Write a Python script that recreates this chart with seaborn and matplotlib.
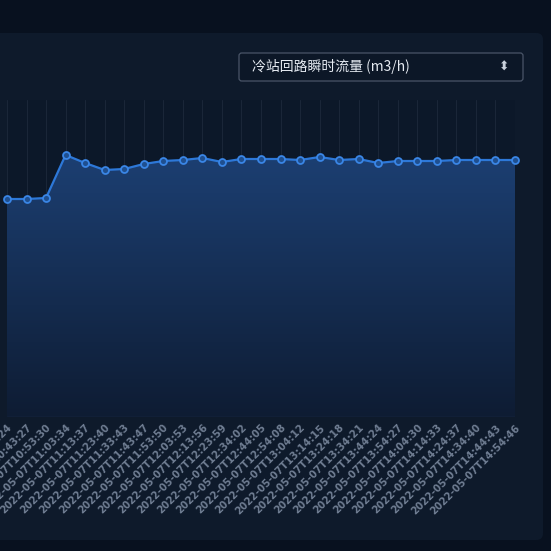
import matplotlib
matplotlib.use("Agg")
import matplotlib.pyplot as plt
from matplotlib.patches import FancyBboxPatch, Polygon
import numpy as np
import pandas as pd
import seaborn as sns

times = ["10:33:24", "10:43:27", "10:53:30", "11:03:34", "11:13:37", "11:23:40", "11:33:43",
         "11:43:47", "11:53:50", "12:03:53", "12:13:56", "12:23:59", "12:34:02", "12:44:05",
         "12:54:08", "13:04:12", "13:14:15", "13:24:18", "13:34:21", "13:44:24", "13:54:27",
         "14:04:30", "14:14:33", "14:24:37", "14:34:40", "14:44:43", "14:54:46"]
labels = ["2022-05-07T" + t for t in times]
flow = [2180, 2180, 2190, 2620, 2540, 2470, 2480, 2530, 2560, 2570, 2590, 2550, 2580, 2580,
        2580, 2570, 2600, 2570, 2580, 2540, 2560, 2560, 2560, 2570, 2570, 2570, 2570]
series_name = "冷站回路瞬时流量 (m3/h)"

df = pd.DataFrame({"x": np.arange(len(flow)), "flow": flow})

sns.set_theme(style="dark")
plt.rcParams["font.family"] = ["Noto Sans CJK SC", "DejaVu Sans"]

fig = plt.figure(figsize=(5.51, 5.51), dpi=100)
fig.patch.set_facecolor("#08111f")
fig.patches.append(FancyBboxPatch((-20 / 551, 11 / 551), 563 / 551, 507 / 551,
                                  boxstyle="round,pad=0,rounding_size=0.012",
                                  transform=fig.transFigure, facecolor="#0e1a2b",
                                  edgecolor="none", zorder=-5))

n = len(flow)
step = 19.54
x0 = 515 - step * (n - 1)
ax = fig.add_axes([x0 / 551, (551 - 417) / 551, (515 - x0) / 551, 317 / 551])
ax.set_zorder(1)
ax.set_facecolor("#0c1829")
ax.set_xlim(0, n - 1)
ax.set_ylim(0, 3170)

# gradient area
grad = np.linspace(0, 1, 256).reshape(-1, 1)
cmap = matplotlib.colors.LinearSegmentedColormap.from_list("g", ["#0e1c33", "#1c3f72"])
im = ax.imshow(grad, extent=[0, n - 1, 0, max(flow)], origin="lower", aspect="auto",
               cmap=cmap, zorder=1)
poly = Polygon(np.column_stack([np.r_[0, df.x, n - 1], np.r_[0, df.flow, 0]]),
               closed=True, transform=ax.transData, facecolor="none", edgecolor="none")
ax.add_patch(poly)
im.set_clip_path(poly)

sns.lineplot(data=df, x="x", y="flow", ax=ax, color="#2d78d8", linewidth=1.6,
             marker="o", markersize=5, markerfacecolor="#1f4f8f",
             markeredgecolor="#3a86e6", markeredgewidth=1.3, zorder=3, clip_on=False)

ax.set_xticks(df.x)
ax.set_xticklabels(labels, rotation=45, ha="right", rotation_mode="anchor",
                   color="#6f7d92", fontsize=7.3, fontweight="bold", family="DejaVu Sans")
ax.tick_params(axis="x", length=0, pad=4)
ax.set_yticks([])
ax.grid(axis="x", color="#1a2638", linewidth=0.8)
ax.set_axisbelow(True)
for s in ax.spines.values():
    s.set_visible(False)
ax.axhline(0, color="#22304a", linewidth=1, zorder=2)
ax.set_xlabel("")
ax.set_ylabel("")

# dropdown selector
fig.patches.append(FancyBboxPatch((239 / 551, (551 - 81) / 551), 284 / 551, 28 / 551,
                                  boxstyle="round,pad=0,rounding_size=0.005",
                                  transform=fig.transFigure, facecolor="#0c1727",
                                  edgecolor="#4a5568", linewidth=0.9, zorder=5))
fig.text(252 / 551, (551 - 67) / 551, series_name, color="#e6ebf2", fontsize=10,
         va="center", ha="left", zorder=6)
fig.text(504 / 551, (551 - 67) / 551, "⬍", color="#c9d1dc", fontsize=9,
         va="center", ha="center", family="DejaVu Sans", zorder=6)

fig.savefig("out.png", dpi=100, facecolor=fig.get_facecolor())
